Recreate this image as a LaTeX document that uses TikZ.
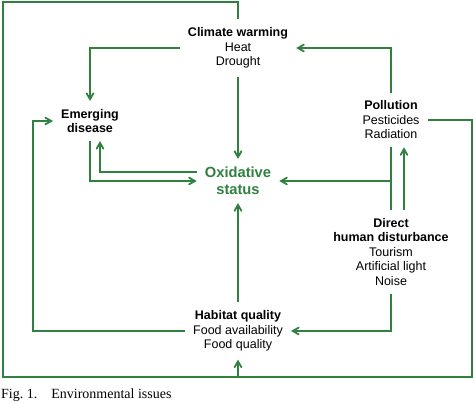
\documentclass[tikz,border=0pt]{standalone}
\usepackage{fontspec}
\setmainfont{Liberation Sans}
\newfontfamily\capfont{Liberation Serif}
\usepackage{tikz}
\usetikzlibrary{arrows,positioning}
\definecolor{envgreen}{rgb}{0.19,0.50,0.25}

\begin{document}
\begin{tikzpicture}[x=1pt,y=-1pt]
\tikzstyle{issue}=[align=center,inner sep=8pt,font=\fontsize{12.5}{14.5}\selectfont]
\tikzstyle{arrow}=[envgreen,line width=1.8pt,->,>=angle 60]
\tikzstyle{line}=[envgreen,line width=1.8pt]
\useasboundingbox (0,0) rectangle (474,402);
\node [issue] at (238,48) (clim) {\textbf{Climate warming}\\Heat\\Drought};
\node [issue] at (90,121) (emerg) {\textbf{Emerging}\\\textbf{disease}};
\node [issue] at (391,120) (poll) {\textbf{Pollution}\\Pesticides\\Radiation};
\node [issue,text=envgreen,font=\fontsize{14.7}{17}\selectfont\bfseries] at (238,181) (oxid) {Oxidative\\status};
\node [issue] at (391,252) (dist) {\textbf{Direct}\\\textbf{human disturbance}\\Tourism\\Artificial light\\Noise};
\node [issue] at (238,331) (hab) {\textbf{Habitat quality}\\Food availability\\Food quality};
\node [anchor=base west,inner sep=0pt,font=\capfont\fontsize{14}{16}\selectfont] at (1,398) (cap) {Fig.~1.\quad Environmental issues};
\coordinate (tl) at (3,2);
\coordinate (bl) at (3,377);
\coordinate (br) at (472,377);
\coordinate (lft) at (33,0);
% climate and pollution
\draw [arrow] (clim.west) -| (emerg.north);
\draw [arrow] (poll.north) |- (clim.east);
\draw [arrow] (clim.south) -- (oxid.north);
% disease <-> oxidative status
\draw [arrow] (emerg.south) |- (oxid.west);
\draw [arrow] ([yshift=9pt]oxid.west) -| ([xshift=10pt]emerg.south);
% right side
\draw [line] (poll.south) -- (dist.north);
\draw [arrow] (poll.south |- oxid.east) -- (oxid.east);
\draw [arrow] ([xshift=13pt]dist.north) -- ([xshift=13pt]poll.south);
\draw [arrow] (dist.south) |- (hab.east);
% habitat
\draw [arrow] (hab.north) -- (oxid.south);
\draw [arrow] (hab.west) -- (hab.west -| lft) |- (emerg.west);
% outer frame
\draw [arrow] (clim.north) -- (clim.north |- tl) -- (tl) -- (bl) -- (hab.south |- bl) -- (hab.south);
\draw [line] (poll.east) -| (br) -- (hab.south |- br);
\end{tikzpicture}
\end{document}
